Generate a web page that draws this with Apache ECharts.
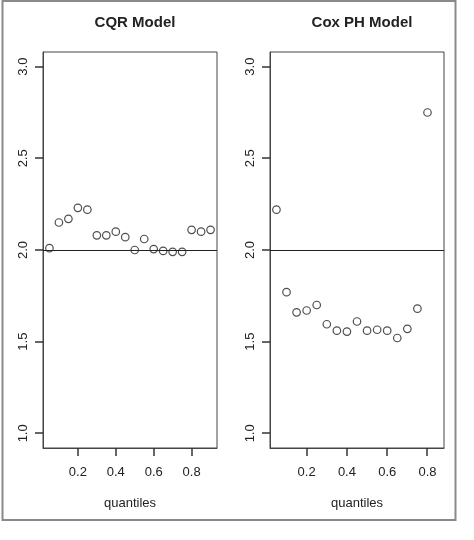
<!DOCTYPE html>
<html>
<head>
<meta charset="utf-8">
<title>CQR vs Cox PH</title>
<script src="https://cdn.jsdelivr.net/npm/echarts@6/dist/echarts.min.js"></script>
<style>
    html, body { margin: 0; padding: 0; background: #fff; }
    #chart { width: 474px; height: 540px; }
</style>
</head>
<body>
<div id="chart"></div>
<script>
var cqrQuantiles = [0.05, 0.10, 0.15, 0.20, 0.25, 0.30, 0.35, 0.40, 0.45, 0.50, 0.55, 0.60, 0.65, 0.70, 0.75, 0.80, 0.85, 0.90];
var cqrValues = [2.01, 2.15, 2.17, 2.23, 2.22, 2.08, 2.08, 2.10, 2.07, 2.00, 2.06, 2.005, 1.995, 1.99, 1.99, 2.11, 2.10, 2.11];

var coxQuantiles = [0.05, 0.10, 0.15, 0.20, 0.25, 0.30, 0.35, 0.40, 0.45, 0.50, 0.55, 0.60, 0.65, 0.70, 0.75, 0.80];
var coxValues = [2.22, 1.77, 1.66, 1.67, 1.70, 1.595, 1.56, 1.555, 1.61, 1.56, 1.565, 1.56, 1.52, 1.57, 1.68, 2.75];

var xTicks = [0.2, 0.4, 0.6, 0.8];
var yTicks = [1.0, 1.5, 2.0, 2.5, 3.0];
var refLine = 2.0;

var yMin = 0.92, yMax = 3.08;
var xRanges = [[0.016, 0.934], [0.018, 0.882]];

var font = 'Liberation Sans, Arial, Helvetica, sans-serif';
var ink = '#222';
var TICK_LEN = 8;

function pairs(xs, ys) {
    return xs.map(function (x, i) { return [x, ys[i]]; });
}

function xAxisFor(idx) {
    return {
        type: 'value',
        gridIndex: idx,
        min: xRanges[idx][0],
        max: xRanges[idx][1],
        name: 'quantiles',
        nameLocation: 'middle',
        nameGap: 49,
        nameTextStyle: { color: ink, fontSize: 13, fontFamily: font },
        splitLine: { show: false },
        axisLine: { show: true, lineStyle: { color: '#444', width: 1 } },
        axisTick: { show: false },
        axisLabel: {
            customValues: xTicks,
            margin: 18,
            color: ink, fontSize: 13, fontFamily: font,
            formatter: function (v) { return v.toFixed(1); }
        }
    };
}

function yAxisFor(idx) {
    return {
        type: 'value',
        gridIndex: idx,
        min: yMin,
        max: yMax,
        splitLine: { show: false },
        axisLine: { show: true, lineStyle: { color: '#444', width: 1 } },
        axisTick: { show: false },
        axisLabel: {
            customValues: yTicks,
            rotate: 90,
            margin: 13,
            color: ink, fontSize: 13, fontFamily: font,
            formatter: function (v) { return v.toFixed(1); }
        }
    };
}

function pointsSeries(idx, data) {
    return {
        type: 'scatter',
        xAxisIndex: idx,
        yAxisIndex: idx,
        data: data,
        symbol: 'circle',
        symbolSize: 7.5,
        itemStyle: { color: 'rgba(0,0,0,0)', borderColor: ink, borderWidth: 1.2 },
        markLine: {
            silent: true,
            symbol: 'none',
            label: { show: false },
            lineStyle: { color: ink, width: 1, type: 'solid' },
            data: [{ yAxis: refLine }]
        }
    };
}

var chart = echarts.init(document.getElementById('chart'));
var option = {
    backgroundColor: '#fff',
    animation: false,
    title: [
        {
            text: 'CQR Model', left: 130, top: 10, textAlign: 'center',
            textStyle: { color: ink, fontSize: 15, fontWeight: 'bold', fontFamily: font }
        },
        {
            text: 'Cox PH Model', left: 357, top: 10, textAlign: 'center',
            textStyle: { color: ink, fontSize: 15, fontWeight: 'bold', fontFamily: font }
        }
    ],
    grid: [
        { left: 43, top: 52, width: 174, height: 396, show: true, borderColor: '#444', borderWidth: 1, backgroundColor: 'transparent' },
        { left: 270, top: 52, width: 174, height: 396, show: true, borderColor: '#444', borderWidth: 1, backgroundColor: 'transparent' }
    ],
    xAxis: [xAxisFor(0), xAxisFor(1)],
    yAxis: [yAxisFor(0), yAxisFor(1)],
    series: [
        pointsSeries(0, pairs(cqrQuantiles, cqrValues)),
        pointsSeries(1, pairs(coxQuantiles, coxValues))
    ]
};
chart.setOption(option);

// outer frame plus R-style outside ticks, placed through each grid's own scales
var extras = [
    {
        type: 'rect',
        shape: { x: 2.5, y: 1, width: 453, height: 519 },
        style: { fill: 'none', stroke: '#8a8a8a', lineWidth: 2 },
        silent: true
    }
];
[0, 1].forEach(function (g) {
    yTicks.forEach(function (v) {
        var p = chart.convertToPixel({ gridIndex: g }, [xRanges[g][0], v]);
        var y = Math.round(p[1]);
        extras.push({
            type: 'line', silent: true, z: 100,
            shape: { x1: p[0] - TICK_LEN, y1: y, x2: p[0], y2: y },
            style: { stroke: '#333', lineWidth: 1.5 }
        });
    });
    xTicks.forEach(function (v) {
        var p = chart.convertToPixel({ gridIndex: g }, [v, yMin]);
        var x = Math.round(p[0]);
        extras.push({
            type: 'line', silent: true, z: 100,
            shape: { x1: x, y1: p[1], x2: x, y2: p[1] + TICK_LEN },
            style: { stroke: '#333', lineWidth: 1.5 }
        });
    });
});
chart.setOption({ graphic: extras });

window.onresize = chart.resize;
</script>
</body>
</html>
